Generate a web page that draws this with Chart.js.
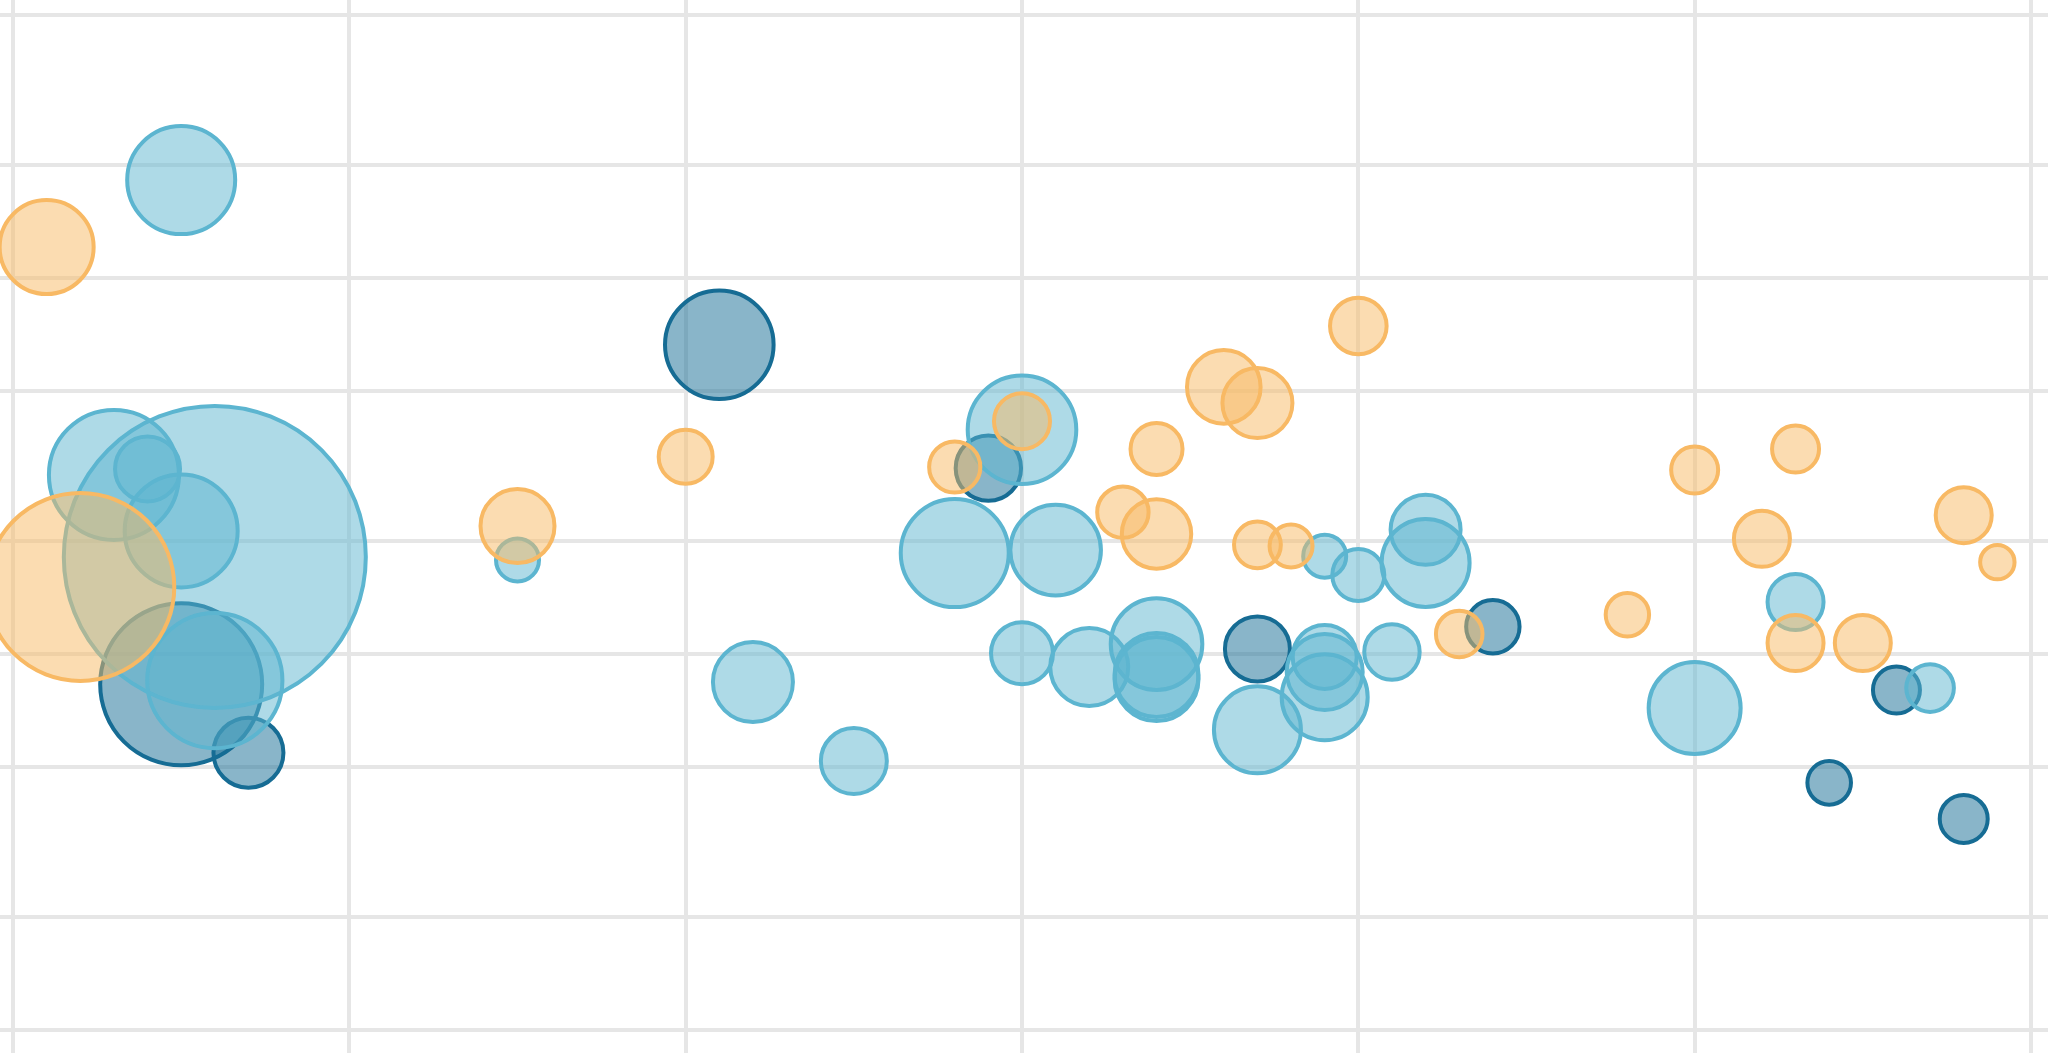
<!DOCTYPE html>
<html>
<head>
<meta charset="utf-8">
<title>Bubble chart</title>
<script src="https://cdn.jsdelivr.net/npm/chart.js@4/dist/chart.umd.min.js"></script>
<style>
  html, body { margin: 0; padding: 0; background: #fff; overflow: hidden; }
  canvas { display: block; }
</style>
</head>
<body>
<canvas id="myChart" width="2048" height="1053"></canvas>
<script>
// tick values (the grid is all that shows, labels are hidden)
const xTicks = [0, 10, 20, 30, 40, 50, 60];
const yTicks = [0, 3, 7, 10, 13, 17, 20, 23, 27];

// series A (orange)
const orangeX = [1, 2, 15, 20, 30, 28, 33, 34, 34, 36, 37, 40, 37, 38, 43, 48, 50, 53, 52, 53, 55, 58, 59];
const orangeY = [20.83, 11.79, 13.41, 15.25, 16.2, 14.98, 13.78, 13.2, 15.46, 17.11, 16.68, 18.73, 12.91, 12.88, 10.54, 11.05, 14.9, 15.46, 13.07, 10.3, 10.3, 13.7, 12.45];
const orangeR = [47, 94, 37, 27, 28, 25.6, 25.7, 34.7, 26, 36.8, 35, 28.3, 23.4, 21.5, 23.3, 21.7, 23.5, 23.5, 28, 28, 28, 28, 17.2];

// series B (light blue)
const lightX = [5, 3, 4, 6, 5, 6, 15, 22, 25, 30, 28, 31, 30, 32, 34, 34, 34, 37, 39, 39, 39, 39, 40, 42, 42, 41, 53, 50, 57];
const lightY = [22.61, 14.77, 14.93, 12.59, 13.28, 9.3, 12.51, 9.26, 7.16, 15.97, 12.69, 12.77, 10.03, 9.66, 10.27, 9.45, 9.34, 7.99, 9.93, 9.53, 8.86, 12.61, 12.11, 13.31, 12.43, 10.06, 11.39, 8.57, 9.1];
const lightR = [54, 65, 32.5, 151, 56.5, 67.6, 21.5, 40, 33, 54.3, 54, 45.3, 31, 39, 45.8, 42, 42, 43.5, 32, 38, 43, 21.5, 26, 35, 44, 27.7, 28, 46, 23.8];

// series C (dark blue)
const darkX = [5, 7, 21, 29, 37, 44, 56, 54, 58];
const darkY = [9.2, 7.38, 18.23, 14.95, 10.14, 10.73, 9.05, 6.58, 5.62];
const darkR = [81, 35, 54.3, 32.7, 32.5, 26.7, 23.5, 21.8, 24];

function toPoints(xs, ys, rs) {
  return xs.map((x, i) => ({ x: x, y: ys[i], r: rs[i] }));
}

const chartContainer = document.getElementById("myChart").getContext("2d");

const gridStyle = {
  color: "#e6e6e6",
  lineWidth: 4,
  drawTicks: false,
};

const myChart = new Chart(chartContainer, {
  type: "bubble",
  data: {
    datasets: [
      {
        label: "A",
        data: toPoints(orangeX, orangeY, orangeR),
        backgroundColor: "rgba(248, 185, 100, 0.5)",
        borderColor: "rgb(248, 185, 100)",
        borderWidth: 4,
      },
      {
        label: "B",
        data: toPoints(lightX, lightY, lightR),
        backgroundColor: "rgba(94, 181, 207, 0.5)",
        borderColor: "rgb(92, 181, 208)",
        borderWidth: 4,
      },
      {
        label: "C",
        data: toPoints(darkX, darkY, darkR),
        backgroundColor: "rgba(20, 107, 147, 0.5)",
        borderColor: "rgb(22, 108, 148)",
        borderWidth: 4,
      },
    ],
  },
  options: {
    responsive: false,
    animation: false,
    layout: { padding: 0, autoPadding: false },
    plugins: {
      legend: { display: false },
    },
    scales: {
      x: {
        type: "linear",
        min: -0.387,
        max: 60.506,
        grid: gridStyle,
        border: { display: false },
        ticks: { display: false },
        afterBuildTicks: (axis) => {
          axis.ticks = xTicks.map((v) => ({ value: v }));
        },
      },
      y: {
        type: "linear",
        min: -0.604,
        max: 27.4,
        grid: gridStyle,
        border: { display: false },
        ticks: { display: false },
        afterBuildTicks: (axis) => {
          axis.ticks = yTicks.map((v) => ({ value: v }));
        },
      },
    },
  },
});
</script>
</body>
</html>
